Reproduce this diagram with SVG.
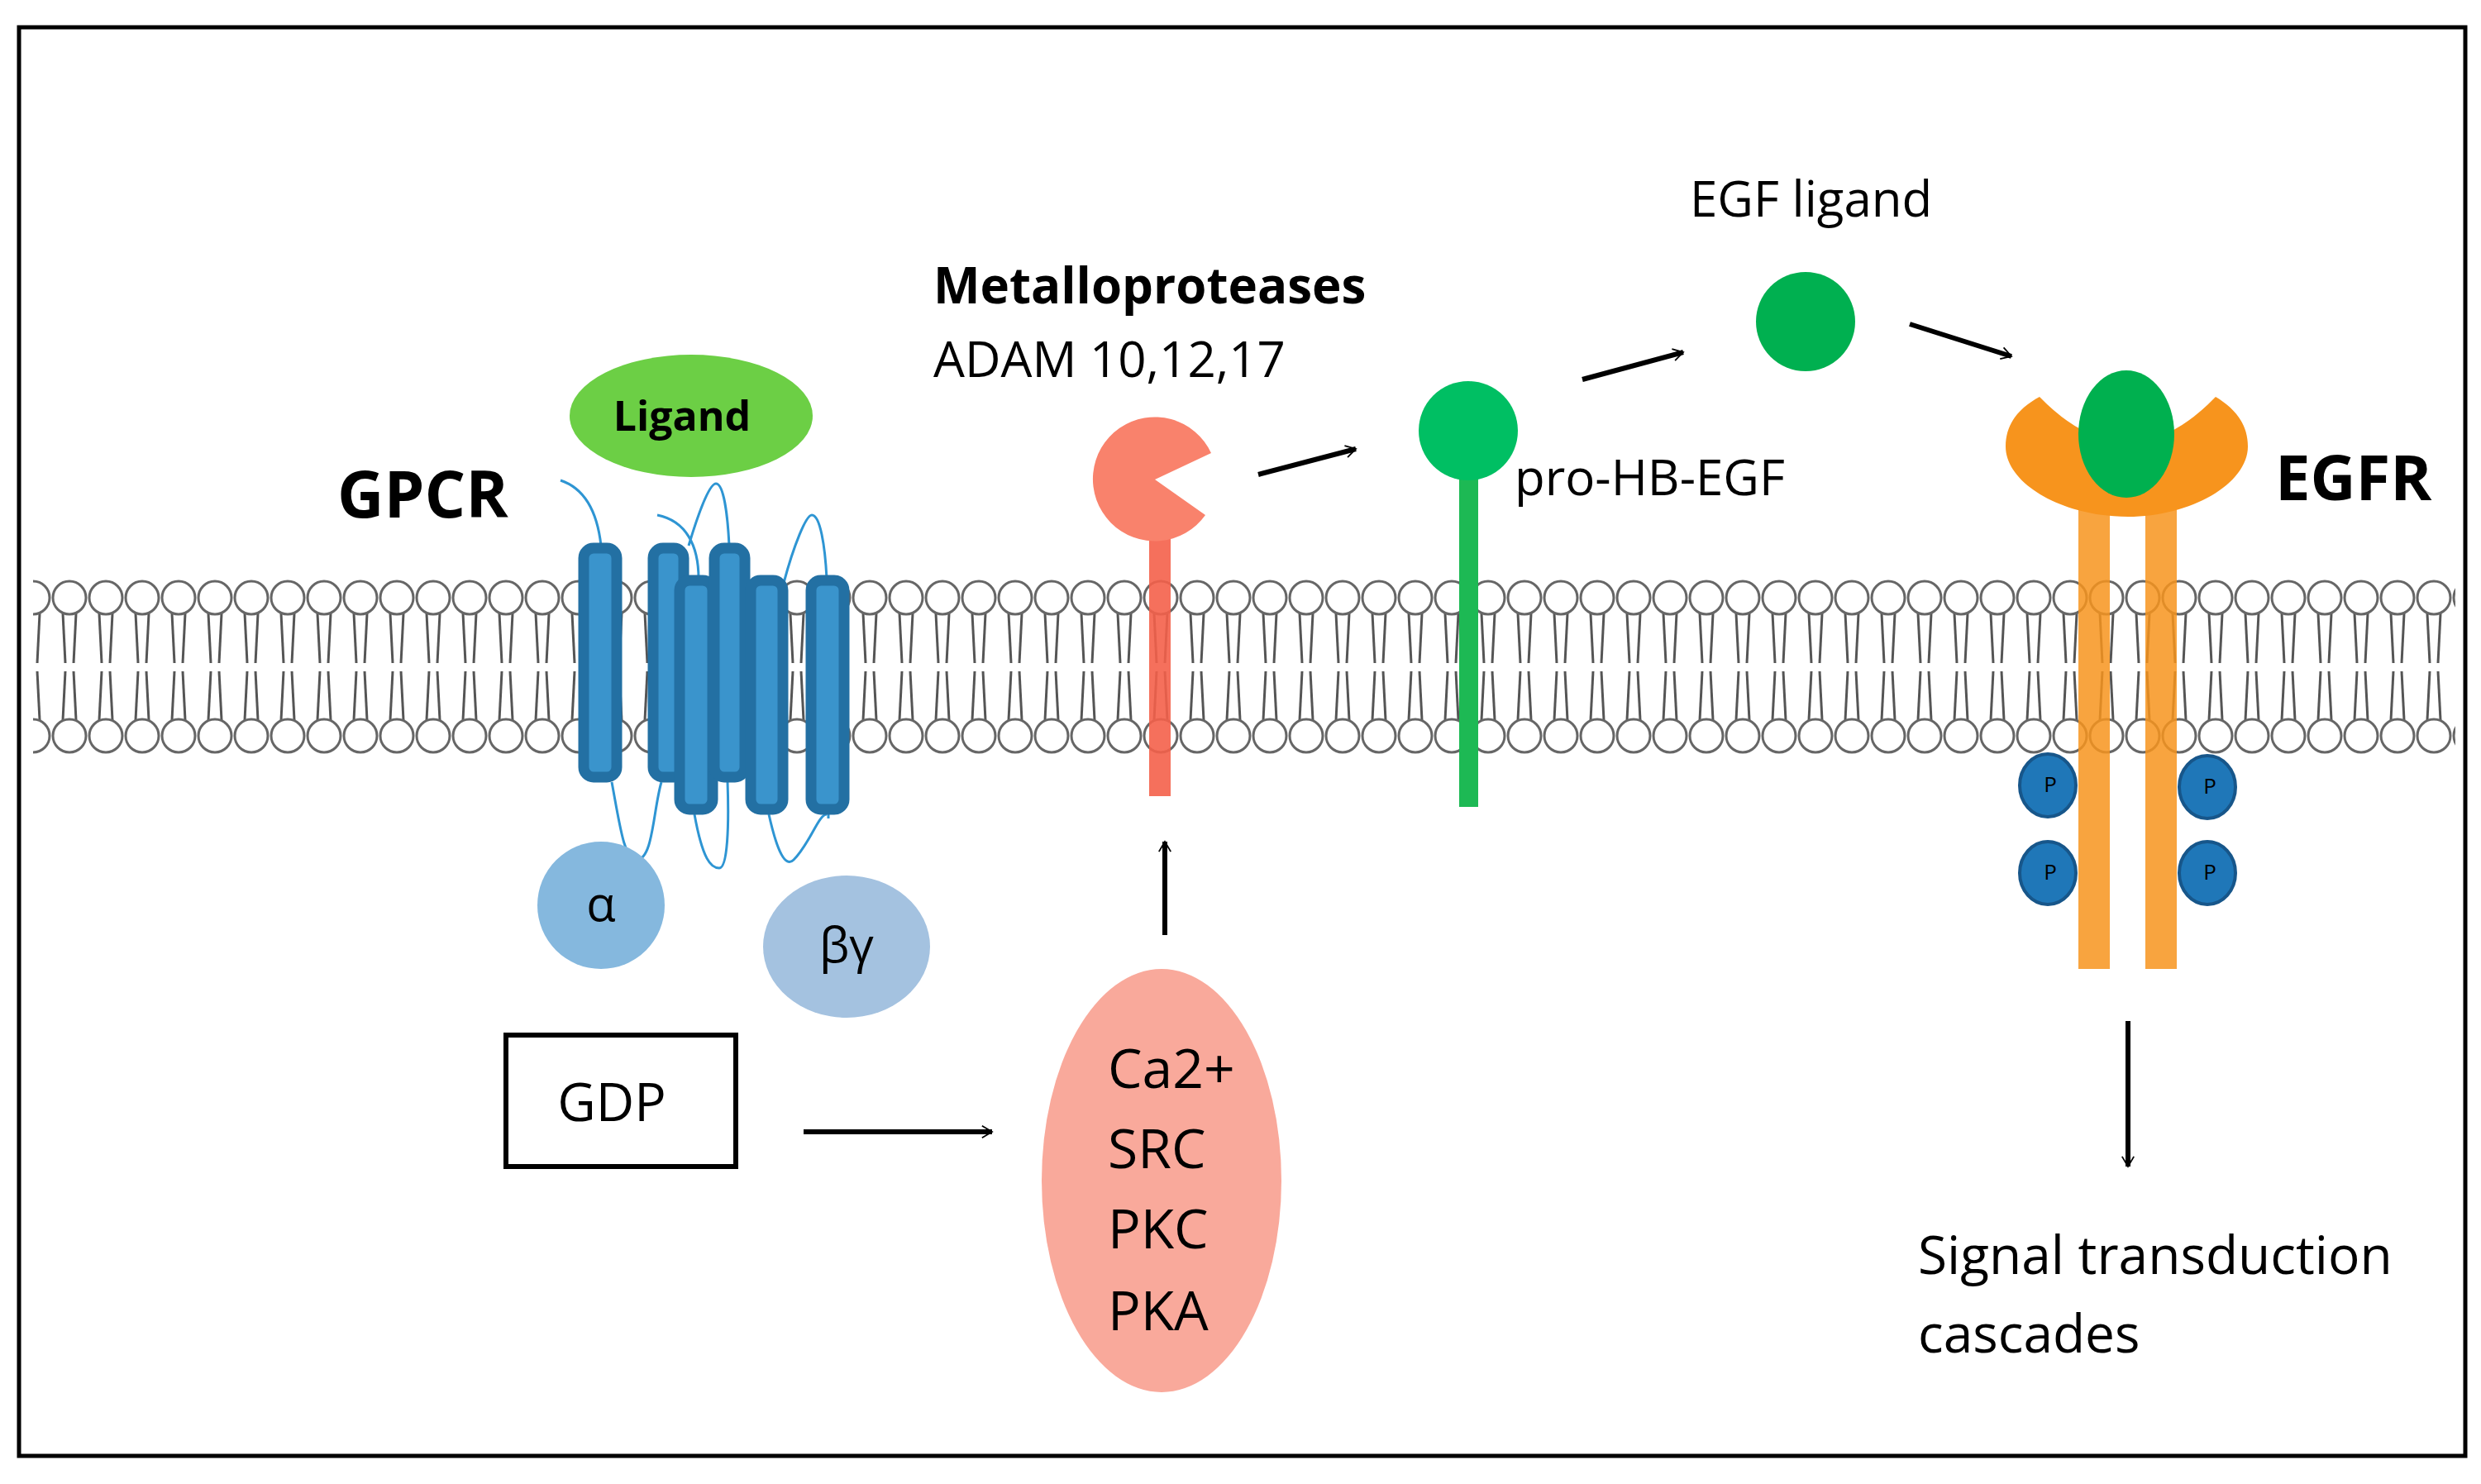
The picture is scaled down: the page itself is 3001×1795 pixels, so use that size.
<svg xmlns="http://www.w3.org/2000/svg" width="3001" height="1795" viewBox="0 0 3001 1795">
<defs>
<style>
text{font-family:"Open Sans","Liberation Sans",sans-serif;fill:#000}
.b{font-weight:bold}
.arr{stroke:#000;stroke-width:6;fill:none;marker-end:url(#ah)}
.helix{fill:#3a94cc;stroke:#2370a3;stroke-width:13}
.loop{fill:none;stroke:#2e95d3;stroke-width:3}
.head{fill:#fff;stroke:#666;stroke-width:3}
.tail{stroke:#555;stroke-width:3}
.p{fill:#1f77b8;stroke:#17568a;stroke-width:4}
</style>
<marker id="ah" viewBox="0 0 20 20" refX="17" refY="10" markerWidth="9" markerHeight="9" markerUnits="userSpaceOnUse" orient="auto" overflow="visible">
<path d="M-10,-6 L17,10 L-10,26" fill="none" stroke="#000" stroke-width="4" transform="scale(1)"/>
</marker>
<pattern id="mem" x="18" y="0" width="44" height="1795" patternUnits="userSpaceOnUse">
<line class="tail" x1="14" y1="742" x2="17" y2="802"/><line class="tail" x1="30" y1="742" x2="27" y2="802"/>
<line class="tail" x1="17" y1="812" x2="14" y2="871"/><line class="tail" x1="27" y1="812" x2="30" y2="871"/>
<circle class="head" cx="22" cy="723" r="20"/>
<circle class="head" cx="22" cy="890" r="20"/>
</pattern>
</defs>
<rect x="23" y="33" width="2959" height="1728" fill="#fff" stroke="#000" stroke-width="5"/>
<g id="membrane"><rect x="40" y="700" width="2930" height="214" fill="url(#mem)"/></g>

<g id="gpcr">
<text class="b" x="408" y="626" font-size="78">GPCR</text>
<path class="loop" d="M678,581 C705,590 722,615 727,660 M795,623 C830,630 845,660 845,700 M833,660 C845,620 858,585 866,585 C875,585 880,620 882,660 M948,705 C960,660 975,623 982,623 C992,623 998,660 1000,700 M740,946 C750,1000 755,1040 770,1040 C790,1040 790,980 800,946 M840,985 C850,1040 860,1050 870,1050 C880,1050 882,1000 880,945 M930,985 C940,1030 950,1050 960,1040 C980,1020 990,985 1000,985 M1002,985 L1002,990"/>
<rect class="helix" x="706" y="663" width="40" height="277" rx="12"/>
<rect class="helix" x="790" y="663" width="37" height="277" rx="12"/>
<rect class="helix" x="822" y="702" width="40" height="277" rx="12"/>
<rect class="helix" x="864" y="663" width="37" height="277" rx="12"/>
<rect class="helix" x="908" y="702" width="39" height="277" rx="12"/>
<rect class="helix" x="981" y="702" width="40" height="277" rx="12"/>
</g>
<g id="ligand">
<ellipse cx="836" cy="503" rx="147" ry="74" fill="#6ccf45"/>
<text class="b" x="825" y="521" font-size="50" text-anchor="middle" fill="#111">Ligand</text>
</g>
<g id="alpha"><ellipse cx="727" cy="1095" rx="77" ry="77" fill="#85b8de"/><text x="727" y="1114" font-size="58" text-anchor="middle">α</text></g>
<g id="betagamma"><ellipse cx="1024" cy="1145" rx="101" ry="86" fill="#a4c2e0"/><text x="1024" y="1164" font-size="58" text-anchor="middle">βγ</text></g>
<g id="gdp"><rect x="612" y="1252" width="278" height="159" fill="#fff" stroke="#000" stroke-width="6"/><text x="740" y="1356" font-size="64" text-anchor="middle">GDP</text></g>
<g id="kinases"><ellipse cx="1405" cy="1428" rx="145" ry="256" fill="#f9a99b"/>
<text x="1340" y="1316" font-size="66">Ca2+</text><text x="1340" y="1413" font-size="66">SRC</text><text x="1340" y="1510" font-size="66">PKC</text><text x="1340" y="1609" font-size="66">PKA</text></g>
<g id="metalloprotease">
<rect x="1390" y="651" width="26" height="312" fill="#f4604a" opacity="0.9"/>
<path d="M1397,580 L1465,548 A75,75 0 1 0 1458,623 Z" fill="#f9826c"/>
<text class="b" x="1129" y="367" font-size="60">Metalloproteases</text>
<text x="1129" y="456" font-size="60">ADAM 10,12,17</text>
</g>
<g id="prohbegf">
<rect x="1765" y="560" width="23" height="416" fill="#1db954"/>
<circle cx="1776" cy="521" r="60" fill="#00bf63"/>
<text x="1832" y="599" font-size="60">pro-HB-EGF</text>
</g>
<g id="egf"><circle cx="2184" cy="389" r="60" fill="#00b050"/><text x="2044" y="262" font-size="60">EGF ligand</text></g>
<g id="egfr">
<rect x="2514" y="600" width="38" height="572" fill="#f7941d" opacity="0.85"/>
<rect x="2595" y="600" width="38" height="572" fill="#f7941d" opacity="0.85"/>
<path d="M2467,480 Q2574,590 2680,480 C2700,492 2719,510 2719,540 C2719,585 2650,625 2574,625 C2495,625 2426,585 2426,540 C2426,510 2445,492 2467,480 Z" fill="#f7941d"/>
<ellipse cx="2572" cy="525" rx="58" ry="77" fill="#00b04f"/>
<ellipse class="p" cx="2477" cy="950" rx="34" ry="38"/><ellipse class="p" cx="2477" cy="1056" rx="34" ry="38"/>
<ellipse class="p" cx="2670" cy="952" rx="34" ry="38"/><ellipse class="p" cx="2670" cy="1056" rx="34" ry="38"/>
<g font-size="26" text-anchor="middle"><text x="2480" y="958">P</text><text x="2480" y="1064">P</text><text x="2673" y="960">P</text><text x="2673" y="1064">P</text></g>
<text class="b" x="2752" y="605" font-size="76">EGFR</text>
</g>
<g id="signal"><text x="2320" y="1541" font-size="64">Signal transduction</text><text x="2320" y="1636" font-size="64">cascades</text></g>
<g id="connectors">
<line class="arr" x1="1438" y1="1129" x2="1409" y2="1129" style="display:none"/>
<line class="arr" x1="972" y1="1369" x2="1200" y2="1369"/>
<line class="arr" x1="1409" y1="1131" x2="1409" y2="1018"/>
<line class="arr" x1="1522" y1="574" x2="1640" y2="543"/>
<line class="arr" x1="1914" y1="459" x2="2036" y2="426"/>
<line class="arr" x1="2310" y1="392" x2="2433" y2="431"/>
<line class="arr" x1="2574" y1="1235" x2="2574" y2="1411"/>
</g>
</svg>
